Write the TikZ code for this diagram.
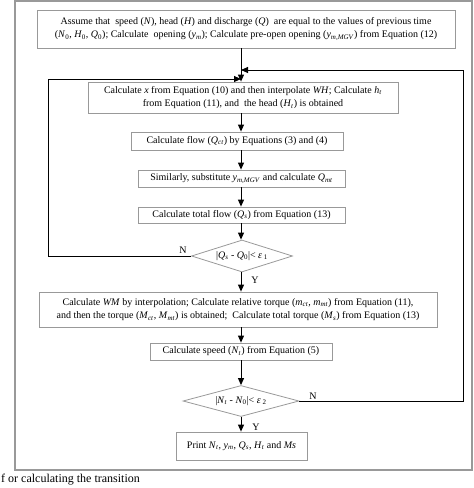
\documentclass[tikz,border=0pt]{standalone}
\usepackage{fontspec}
\setmainfont{Liberation Serif}
\usetikzlibrary{shapes.geometric,arrows.meta}
\newcommand\itl[1]{\textit{#1}}
\newcommand\subit[2]{\textit{#1}\textsubscript{\textit{#2}}}
\newcommand\subup[2]{\textit{#1}\textsubscript{#2}}

\begin{document}
\begin{tikzpicture}[x=1pt,y=-1pt,
        font=\fontsize{10}{13.5}\selectfont,
        box/.style={draw=gray!80,line width=0.8pt,inner sep=0pt,align=center},
        decision/.style={diamond,aspect=3.2,draw=gray!80,line width=0.8pt,inner sep=0pt},
        arrow/.style={-{Triangle[length=7pt,width=6pt]},line width=0.9pt}]
            \useasboundingbox (0,0) rectangle (474,488);
            \draw[line width=1.6pt,gray!80] (15,1) rectangle (472,470);
            \coordinate (axis) at (241,0);
            % process boxes
            \node[box,minimum width=418,minimum height=38] (init) at (246,29)
                {Assume that \ speed (\itl{N}), head (\itl{H}) and discharge (\itl{Q}) \ are equal to the values of previous time\\
                 (\subup{N}{0}, \subup{H}{0}, \subup{Q}{0}); Calculate \ opening (\subit{y}{m}); Calculate pre-open opening (\subit{y}{m,MGV}) from Equation (12)};
            \node[box,minimum width=310,minimum height=31] (head) at (243,97.5)
                {Calculate \itl{x} from Equation (10) and then interpolate \itl{WH}; Calculate \subit{h}{t}\\
                 from Equation (11), and \ the head (\subit{H}{t}) is obtained};
            \node[box,minimum width=212,minimum height=18] (flow) at (237,141)
                {Calculate flow (\subit{Q}{ct}) by Equations (3) and (4)};
            \node[box,minimum width=207,minimum height=17] (subs) at (241.5,178.5)
                {Similarly, substitute \subit{y}{m,MGV} and calculate \subit{Q}{mt}};
            \node[box,minimum width=207,minimum height=16] (total) at (241.5,215)
                {Calculate total flow (\subit{Q}{s}) from Equation (13)};
            \node[decision,minimum width=101,minimum height=32] (chkq) at (242,256)
                {|\subit{Q}{s} - \subup{Q}{0}|{}< \itl{ε}\textsubscript{ 1}};
            \node[box,minimum width=398,minimum height=35] (torque) at (238,309.5)
                {Calculate \itl{WM} by interpolation; Calculate relative torque (\subit{m}{ct}, \subit{m}{mt}) from Equation (11),\\
                 and then the torque (\subit{M}{ct}, \subit{M}{mt}) is obtained; \ Calculate total torque (\subit{M}{s}) from Equation (13)};
            \node[box,minimum width=182,minimum height=17] (speed) at (241,351.5)
                {Calculate speed (\subit{N}{t}) from Equation (5)};
            \node[decision,minimum width=116,minimum height=31] (chkn) at (241,401)
                {|\subit{N}{t} - \subup{N}{0}|{}< \itl{ε}\textsubscript{ 2}};
            \node[box,minimum width=131,minimum height=28] (print) at (241.5,446)
                {Print \subit{N}{t}, \subit{y}{m}, \subit{Q}{s}, \subit{H}{t} and \itl{Ms}};
            % loop corners
            \coordinate (jr) at (241,70);
            \coordinate (jl) at (241,79);
            \coordinate (cr) at (463,70);
            \coordinate (cl) at (48,79);
            % connectors
            \draw[arrow] (init.south -| axis) -- (head.north -| axis);
            \foreach \a/\b in {head/flow,flow/subs,subs/total,total/chkq,chkq/torque,torque/speed,speed/chkn,chkn/print} {
                \draw[arrow] (\a.south -| axis) -- (\b.north -| axis);
            }
            \draw[arrow] (chkq.west) -| (cl) -- (jl);
            \draw[arrow] (chkn.east) -| (cr) -- (jr);
            % branch labels
            \node (nq) at (183,250) {N};
            \node (yq) at (255,280) {Y};
            \node (nn) at (313,396) {N};
            \node (yn) at (256,427) {Y};
            \node[anchor=north west,inner sep=0pt,font=\fontsize{12}{14}\selectfont] (cap) at (1,474) {f or calculating the transition};
        \end{tikzpicture}
\end{document}
